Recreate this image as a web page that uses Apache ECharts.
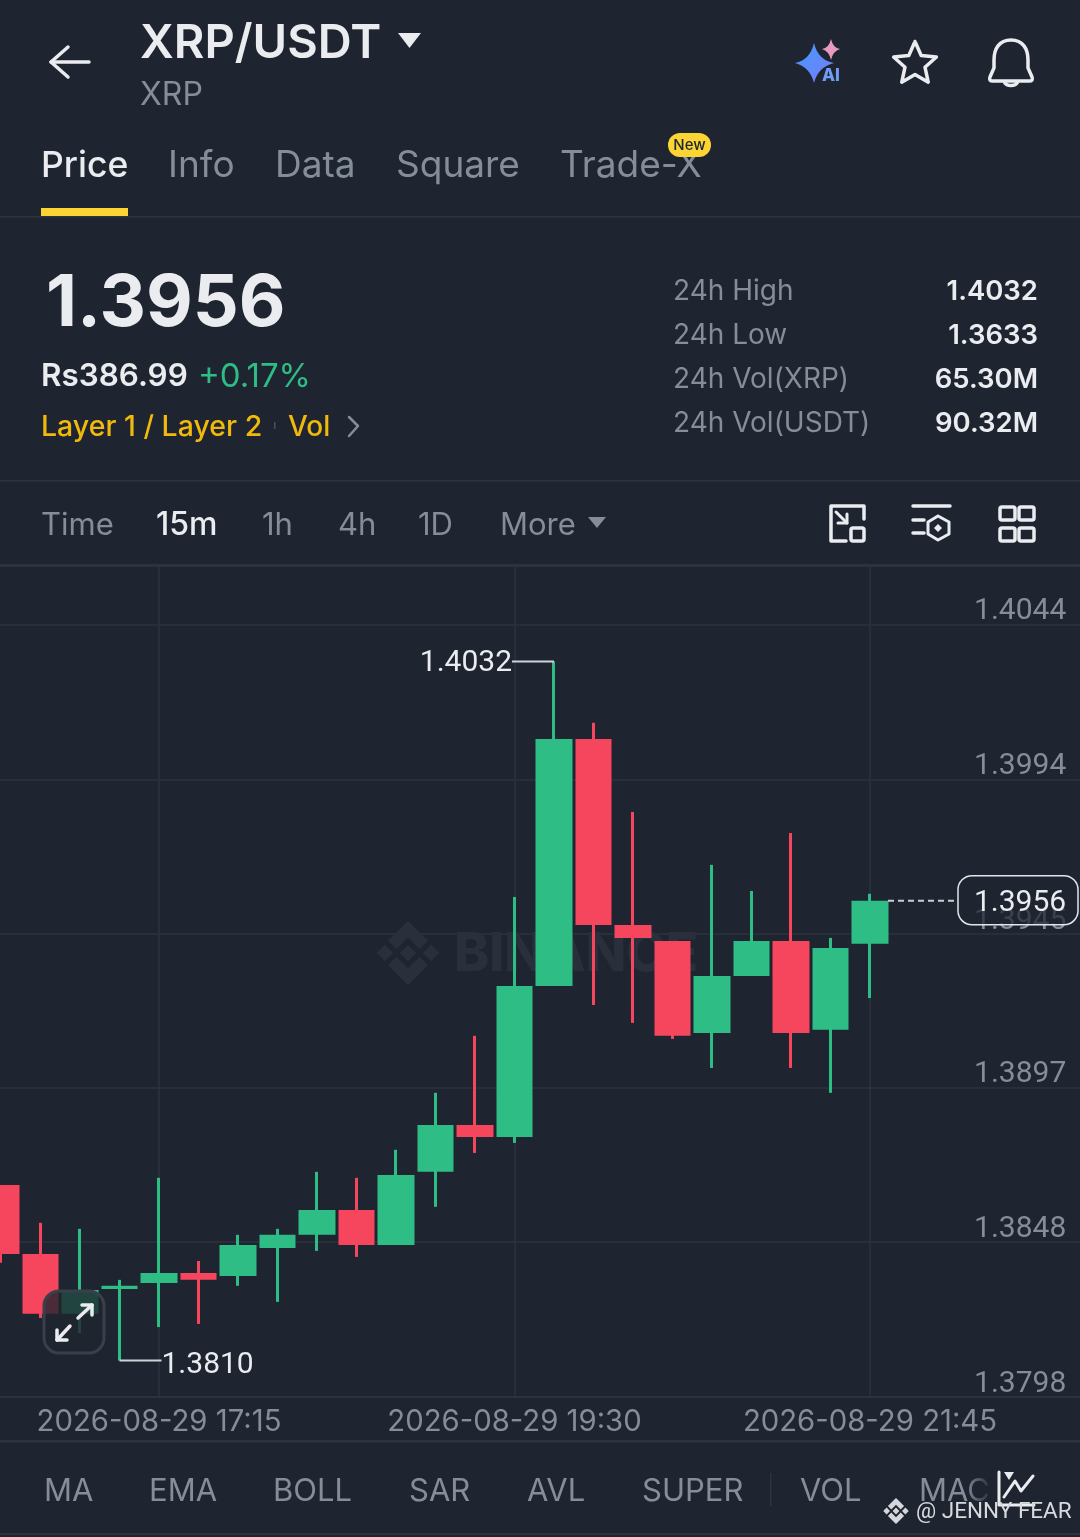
<!DOCTYPE html>
<html><head><meta charset="utf-8">
<style>html,body{margin:0;padding:0;background:#1e2530}#c{width:1080px;height:1537px}</style>
<script src="https://cdn.jsdelivr.net/npm/echarts@6/dist/echarts.min.js"></script>
</head><body><div id="c"></div>
<script>
const categories = ['16:15','16:30','16:45','17:00','2026-08-29 17:15','17:30','17:45','18:00','18:15','18:30','18:45','19:00','19:15','2026-08-29 19:30','19:45','20:00','20:15','20:30','20:45','21:00','21:15','21:30','2026-08-29 21:45','22:00','22:15','22:30','22:45','23:00'];
const opens  = [1.38657,1.38438,1.38248,1.38327,1.38346,1.38378,1.38368,1.38457,1.38499,1.38578,1.38467,1.38699,1.38848,1.38810,1.39289,1.40074,1.39483,1.39432,1.39140,1.39321,1.39432,1.39150,1.39423];
const closes = [1.38438,1.38248,1.38324,1.38337,1.38378,1.38356,1.38467,1.38499,1.38578,1.38467,1.38689,1.38848,1.38810,1.39289,1.40074,1.39483,1.39442,1.39131,1.39321,1.39432,1.39140,1.39410,1.39560];
const lows   = [1.38410,1.38235,1.38187,1.38100,1.38206,1.38216,1.38337,1.38286,1.38448,1.38429,1.38467,1.38588,1.38759,1.38791,1.39289,1.39229,1.39172,1.39121,1.39029,1.39321,1.39029,1.38950,1.39251];
const highs  = [1.38657,1.38537,1.38518,1.38356,1.38680,1.38416,1.38499,1.38518,1.38699,1.38680,1.38769,1.38950,1.39131,1.39572,1.40320,1.40125,1.39842,1.39432,1.39674,1.39591,1.39775,1.39442,1.39582];
const yTicks = [1.40436,1.39944,1.39454,1.38966,1.38476,1.37984];
const xTickIdx = [4,13,22];
const highMark = [14,1.4032];
const lowMark = [3,1.3810];
const lastPrice = [22,1.3956];
const stats = [['24h High','1.4032'],['24h Low','1.3633'],['24h Vol(XRP)','65.30M'],['24h Vol(USDT)','90.32M']];
const tabs = [['Price',41],['Info',168],['Data',275],['Square',396],['Trade-X',560]];
const periods = [['Time',41],['15m',156],['1h',262],['4h',338],['1D',418],['More',500]];
const indicators = [['MA',44],['EMA',149],['BOLL',273],['SAR',409],['AVL',527],['SUPER',642],['VOL',800],['MACD',919]];

const BG='#1e2530', GREY='#868d9a', WHITE='#eaecef', GREEN='#2ebd85', RED='#f6465d', LINE='#2d333e', YEL='#fcd535';
const FF='Inter, "Noto Sans", sans-serif';
const FN='Roboto, Inter, sans-serif';
const candleData = opens.map((o,i)=>[o,closes[i],lows[i],highs[i]]);

function T(x,y,text,size,fill,weight,align,z,family){
  return {type:'text',z:z||10,silent:true,style:{x,y:y+size*0.055,text,fontSize:size,fontFamily:family||FF,fontWeight:weight||400,fill,align:align||'left',verticalAlign:'middle'}};
}
function R(x,y,w,h,fill,r,stroke,lw,z){
  return {type:'rect',z:z||10,silent:true,shape:{x,y,width:w,height:h,r:r||0},style:{fill:fill||'none',stroke:stroke||'none',lineWidth:lw||0}};
}
function PL(pts,stroke,lw,z){
  return {type:'polyline',z:z||10,silent:true,shape:{points:pts},style:{fill:'none',stroke,lineWidth:lw||3,lineCap:'round',lineJoin:'round'}};
}
function PG(pts,fill,z){return {type:'polygon',z:z||10,silent:true,shape:{points:pts},style:{fill}};}
let shapeNo=0;
function P(d,style,z){
  const name='iconShape'+(shapeNo++);
  echarts.graphic.registerShape(name,echarts.graphic.extendPath(d,{}));
  return {type:name,z:z||10,silent:true,style};
}
function D(cx,cy,r,fill,z){return PG([[cx,cy-r],[cx+r,cy],[cx,cy+r],[cx-r,cy]],fill,z);}
function star(cx,cy,R1,R2){const a=[];for(let i=0;i<10;i++){const r=i%2?R2:R1,t=-Math.PI/2+i*Math.PI/5;a.push([cx+r*Math.cos(t),cy+r*Math.sin(t)]);}a.push(a[0]);return a;}
function logo(cx,cy,s,fill,z){
  return [D(cx,cy,s*.26,fill,z),D(cx-s*.72,cy,s*.26,fill,z),D(cx+s*.72,cy,s*.26,fill,z),
    PG([[cx,cy-s],[cx+s*.62,cy-s*.38],[cx+s*.36,cy-s*.12],[cx,cy-s*.48],[cx-s*.36,cy-s*.12],[cx-s*.62,cy-s*.38]],fill,z),
    PG([[cx,cy+s],[cx+s*.62,cy+s*.38],[cx+s*.36,cy+s*.12],[cx,cy+s*.48],[cx-s*.36,cy+s*.12],[cx-s*.62,cy+s*.38]],fill,z)];
}
const g=[];
// header
g.push(PL([[68,47],[51,62],[68,77]],WHITE,3.5),PL([[51,62],[89,62]],WHITE,3.5));
g.push(T(140,41,'XRP/USDT',47,WHITE,600));
g.push(PG([[398,33],[421,33],[409.5,48]],WHITE));
g.push(T(140,94,'XRP',32,GREY,400));
g.push(P('M795 63 Q810 60 814 43 Q818 60 834 63 Q818 67 814 83 Q810 67 795 63 Z',{fill:{type:'linear',x:0,y:0,x2:1,y2:1,colorStops:[{offset:0,color:'#3f9bff'},{offset:1,color:'#7d7bf5'}]}}));
g.push(P('M822 49 Q829 48 831 39 Q833 48 840 49 Q833 51 831 60 Q829 51 822 49 Z',{fill:'#e89ac0'}));
g.push(T(822,75,'AI',17,'#6f9cf5',800));
g.push(PL(star(915,64,22.5,10.5),WHITE,3.5));
g.push(P('M1011 40 C999 40 994 49 994 60 L994 68 L990 77 C989 80 990 81 993 81 L1029 81 C1032 81 1033 80 1032 77 L1028 68 L1028 60 C1028 49 1023 40 1011 40 Z M1004 81 C1005 87 1017 87 1018 81',{fill:'none',stroke:WHITE,lineWidth:3.5}));
// tabs
tabs.forEach((t,i)=>g.push(T(t[1],164,t[0],i?37:35.5,i?GREY:WHITE,i?400:500)));
g.push(R(668,133,43,24,YEL,12),T(689.5,145,'New',15,'#202630',500,'center'));
g.push(R(41,208,87,8,YEL));
g.push(R(0,216,1080,1.5,LINE));
// price block
g.push(T(46,300,'1.3956',72,WHITE,700));
g.push(T(41,375,'Rs386.99',31.4,WHITE,600));
g.push(T(198,375,'+0.17%',33,GREEN,400));
g.push(T(41,426,'Layer 1 / Layer 2',28.5,'#f0b90b',500));
g.push(R(274,422,1.5,7,'#4a4f58'));
g.push(T(288,426,'Vol',28,'#f0b90b',500));
g.push(PL([[349,417],[358,426],[349,436]],GREY,2.5));
stats.forEach((s,i)=>{const y=290+i*44;g.push(T(673,y,s[0],28,GREY,400),T(1038,y,s[1],27.5,WHITE,600,'right'));});
g.push(R(0,480,1080,1.5,LINE));
// period row
periods.forEach((p,i)=>g.push(T(p[1],523.5,p[0],i===1?32:31,i===1?WHITE:GREY,i===1?500:400)));
g.push(PG([[588,517],[606,517],[597,528]],GREY));
g.push(PL([[864,519],[864,506],[831,506],[831,541],[846,541]],WHITE,3.5));
g.push(R(851,528,13,13,'none',2,WHITE,3.5));
g.push(PL([[836,512],[847,523]],WHITE,3),PL([[847,514],[847,523],[838,523]],WHITE,3));
g.push(PL([[913,506],[950,506]],WHITE,3.5),PL([[913,520],[924,520]],WHITE,3.5),PL([[913,533],[924,533]],WHITE,3.5));
g.push(PL([[938,516],[949,522],[949,534],[938,540],[928,534],[928,522],[938,516]],WHITE,3));
g.push(D(938,528,4,WHITE));
[[1000,507],[1019,507],[1000,528],[1019,528]].forEach(a=>g.push(R(a[0],a[1],15,13,'none',2,WHITE,3.5)));
g.push(R(0,564,1080,3,LINE));
// watermark
logo(408,953,32,'#2a303b',1).forEach(e=>g.push(e));
g.push({type:'text',z:1,silent:true,style:{x:454,y:955,text:'BINANCE',fontSize:53,fontWeight:800,fontFamily:FF,fill:'#2a303b',align:'left',verticalAlign:'middle'}});
// expand button
g.push(R(44,1291,60,62,'rgba(30,37,46,0.8)',15,'#3a404b',3,10));
g.push(PL([[78,1318],[92,1305]],WHITE,3.5),PL([[82,1305],[92,1305],[92,1315]],WHITE,3.5));
g.push(PL([[70,1326],[57,1340]],WHITE,3.5),PL([[57,1330],[57,1340],[67,1340]],WHITE,3.5));
// bottom row
g.push(R(0,1440,1080,2.5,LINE));
indicators.forEach(a=>g.push(T(a[1],1489.5,a[0],31,GREY,400)));
g.push(R(770,1473,1.5,33,LINE));
g.push({type:'rect',z:11,silent:true,shape:{x:965,y:1470,width:40,height:40},style:{fill:{type:'linear',x:0,y:0,x2:1,y2:0,colorStops:[{offset:0,color:'rgba(30,37,46,0)'},{offset:.7,color:BG},{offset:1,color:BG}]}}});
g.push({type:'rect',z:11,silent:true,shape:{x:1005,y:1470,width:30,height:38},style:{fill:BG}});
g.push(PL([[999,1472],[999,1505],[1034,1505]],WHITE,3,12));
g.push(PL([[1004,1497],[1015,1481],[1021,1491],[1033,1476]],WHITE,3,12));
g.push(PG([[1004,1472],[1014,1472],[1009,1480]],WHITE,12));
logo(896,1511,13,'#d5d7da',13).forEach(e=>g.push(e));
g.push(T(916,1511,'@ JENNY FEAR',22.5,'#d8dadd',400,'left',13,'Roboto'));
g.push(R(0,1533,1080,2,LINE));

const chart=echarts.init(document.getElementById('c'),null,{renderer:'canvas',width:1080,height:1537});
const tickSet=new Set(xTickIdx);
function markItem(params,api){
  const x=api.value(0), y=api.value(1), kind=api.value(2);
  const c=api.coord([x,y]);
  const txt=y.toFixed(4);
  if(kind===2){
    return {type:'group',children:[
      {type:'line',shape:{x1:c[0]+18,y1:c[1],x2:c[0]+88,y2:c[1]},style:{stroke:'#c9ccd2',lineWidth:2,lineDash:[6,4]}},
      {type:'rect',shape:{x:c[0]+88,y:c[1]-25,width:120,height:49,r:14},style:{fill:'rgba(30,37,48,0.72)',stroke:'#e4e6ea',lineWidth:1.5}},
      {type:'text',style:{x:c[0]+150,y:c[1]+3,text:txt,fontSize:30,fontFamily:FN,fill:WHITE,align:'center',verticalAlign:'middle'}}
    ]};
  }
  const dir=kind===0?-1:1;
  const tx=c[0]+dir*42;
  return {type:'group',children:[
    {type:'line',shape:{x1:c[0],y1:c[1],x2:tx,y2:c[1]},style:{stroke:'#cfd2d6',lineWidth:2}},
    {type:'text',style:{x:tx,y:c[1]+(kind===0?2:5),text:txt,fontSize:30,fontFamily:FN,fill:WHITE,align:kind===0?'right':'left',verticalAlign:'middle'}}
  ]};
}
chart.setOption({
  animation:false,
  backgroundColor:BG,
  grid:{left:-18.75,width:1106,top:566,height:831,containLabel:false,outerBoundsMode:'none'},
  xAxis:{type:'category',data:categories,boundaryGap:true,
    axisLine:{show:true,lineStyle:{color:LINE,width:2}},axisTick:{show:false},
    axisLabel:{show:true,interval:(i)=>tickSet.has(i),color:GREY,fontSize:29.3,fontFamily:FF,margin:11,align:'center',verticalAlign:'top',hideOverlap:false},
    splitLine:{show:true,alignWithLabel:true,interval:(i)=>tickSet.has(i),lineStyle:{color:LINE,width:1.5}}},
  yAxis:{type:'value',position:'right',min:yTicks[5],max:1.40623,scale:true,
    axisLine:{show:false},
    axisTick:{show:false,customValues:yTicks},
    axisLabel:{show:true,inside:true,customValues:yTicks,formatter:v=>v.toFixed(4),color:GREY,fontSize:30,lineHeight:26,fontFamily:FN,margin:21,verticalAlign:'bottom',padding:[0,0,0,0],showMinLabel:true,showMaxLabel:true,hideOverlap:false},
    splitLine:{show:true,lineStyle:{color:LINE,width:1.5},showMinLine:true,showMaxLine:true}},
  series:[
    {type:'candlestick',name:'wicks',data:candleData,barWidth:1,z:2,clip:false,silent:true,
      itemStyle:{color:GREEN,color0:RED,borderColor:GREEN,borderColor0:RED,borderWidth:3}},
    {type:'candlestick',name:'XRP/USDT',data:candleData,barWidth:37,z:3,clip:false,silent:true,
      itemStyle:{color:GREEN,color0:RED,borderColor:GREEN,borderColor0:RED,borderWidth:0}},
    {type:'custom',name:'marks',z:6,clip:false,silent:true,coordinateSystem:'cartesian2d',encode:{x:0,y:1},
      data:[[highMark[0],highMark[1],0],[lowMark[0],lowMark[1],1],[lastPrice[0],lastPrice[1],2]],renderItem:markItem}
  ],
  graphic:{elements:g}
});
</script></body></html>
